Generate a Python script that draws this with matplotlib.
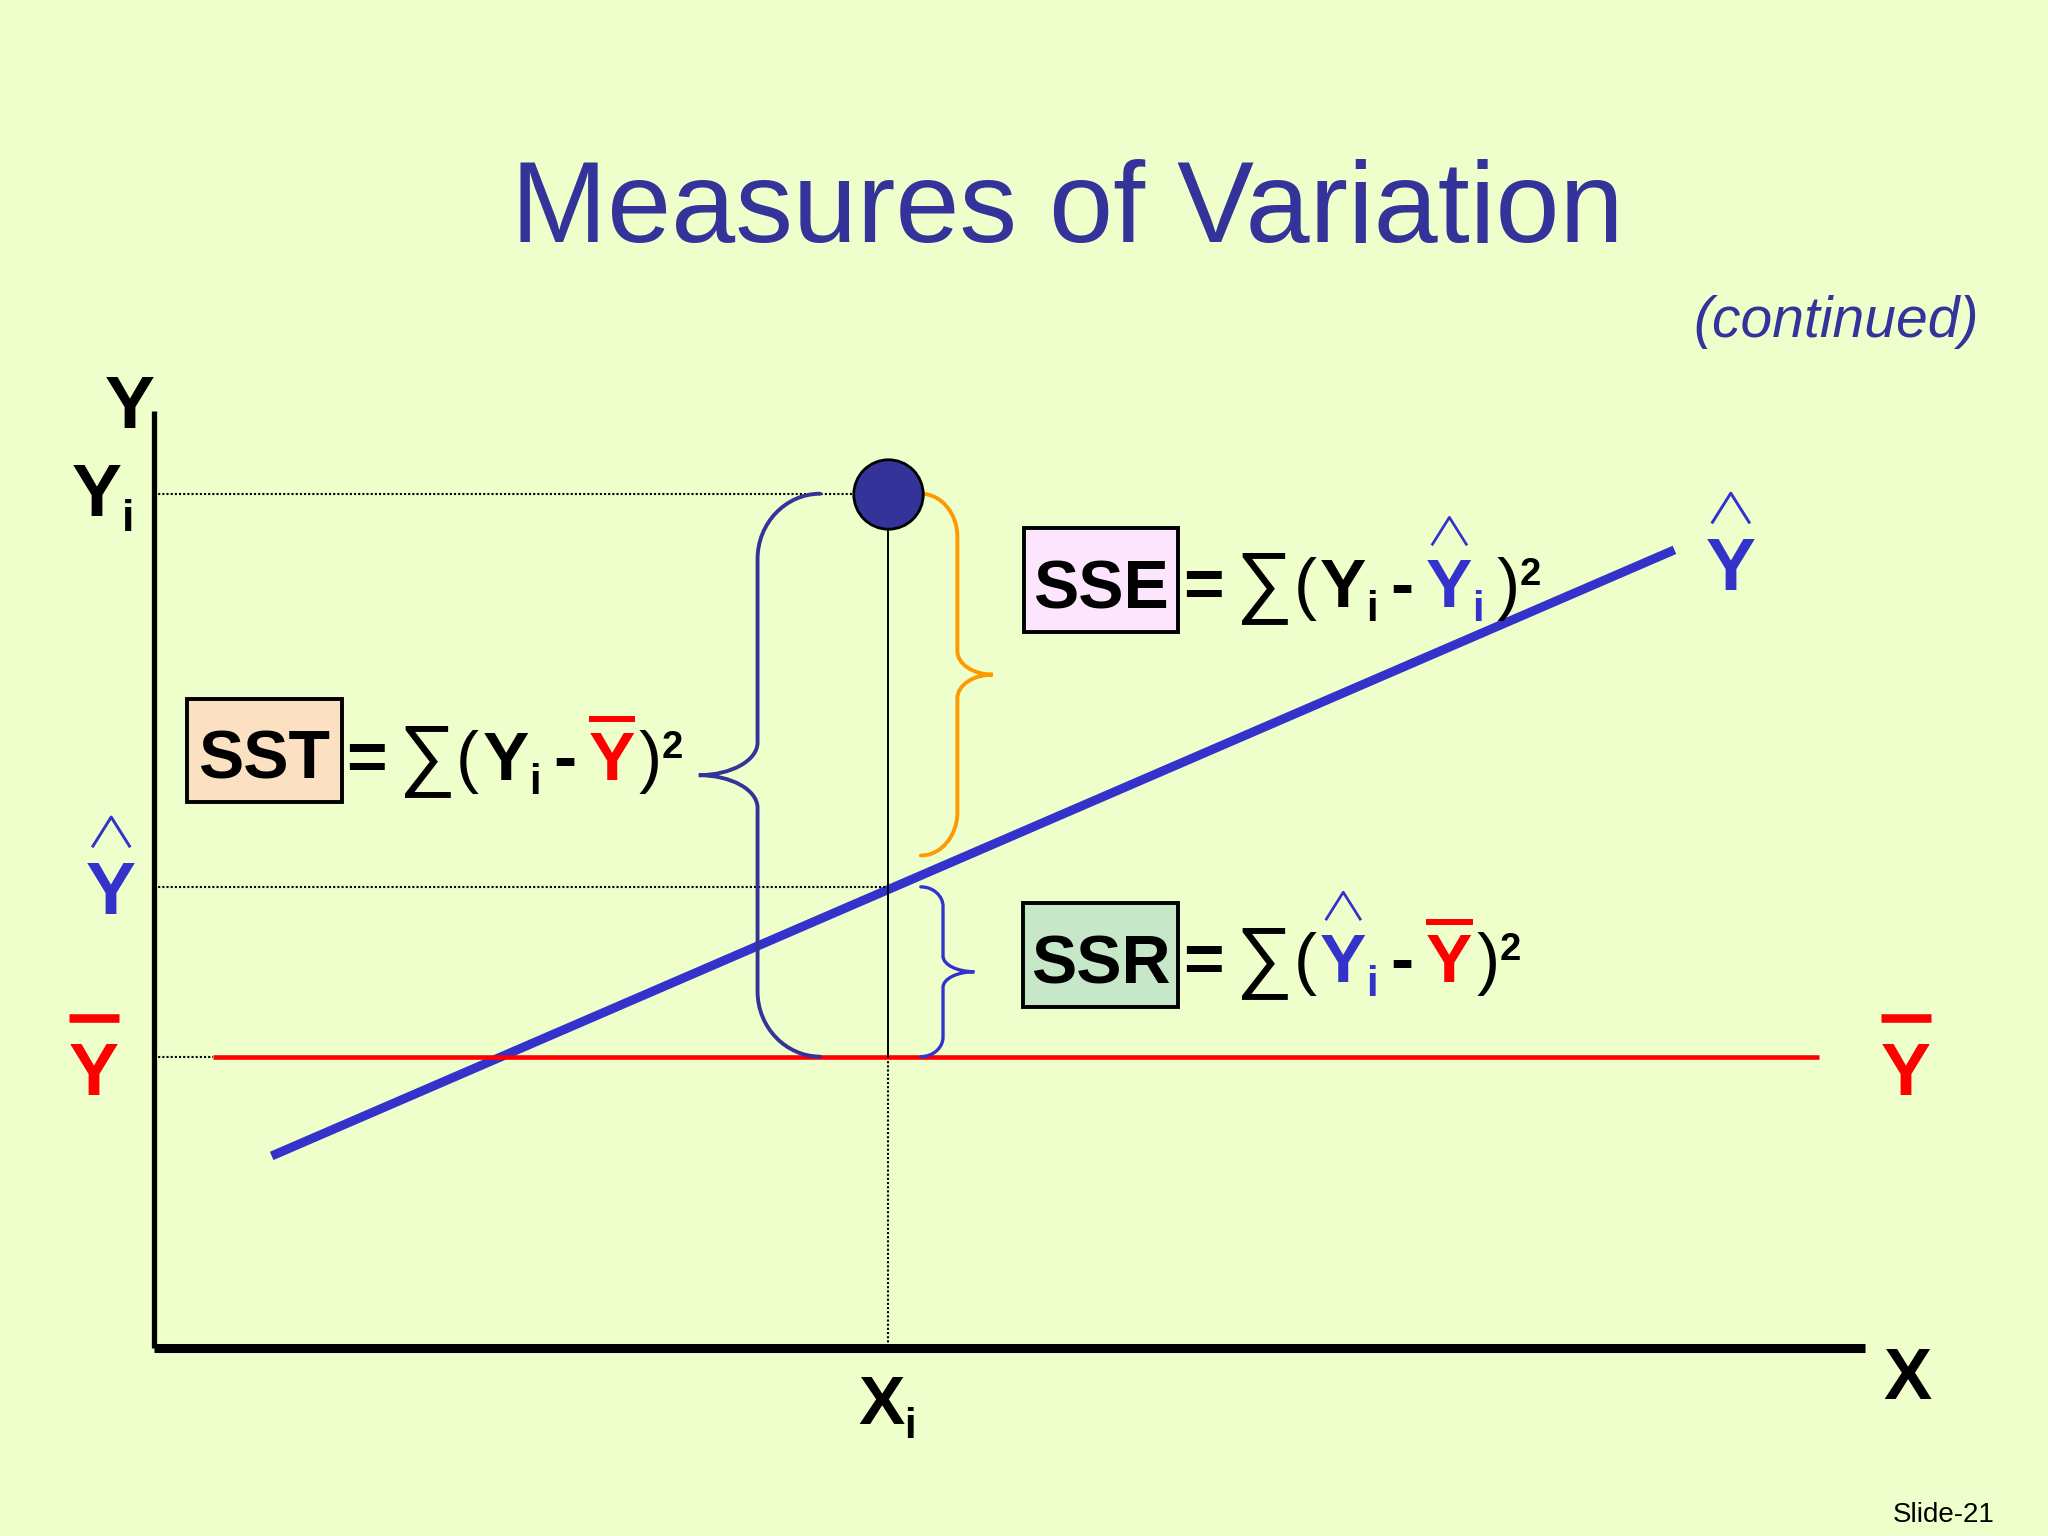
import matplotlib
matplotlib.use("Agg")
import matplotlib.pyplot as plt
from matplotlib.path import Path
from matplotlib.patches import PathPatch, Rectangle
from matplotlib.transforms import IdentityTransform

BG = "#EEFFCC"
NAVY = "#333399"
BLUE = "#3333CC"
RED = "#FF0000"
ORANGE = "#FF9900"

SANS = ["Liberation Sans", "DejaVu Sans"]

# chart values, in axis units (origin where the two axes meet)
x_axis_end = 13.10
y_axis_end = 7.17
x_i, y_i = 5.62, 6.54
y_hat_i = 3.53
y_bar = 2.23
line_x = [0.90, 11.64]
line_y = [1.47, 6.11]
mean_x = [0.45, 12.75]

# boxes: x0, y0, width, height
box_names = ["SST", "SSE", "SSR"]
box_fill = ["#FCE0C2", "#FDE6FD", "#C6E8C8"]
box_rect = [(0.25, 4.18, 1.19, 0.79), (6.66, 5.48, 1.18, 0.80), (6.65, 2.61, 1.19, 0.80)]

fig = plt.figure(figsize=(20.48, 15.36), dpi=100, facecolor=BG)
ax = fig.add_axes([0, 0, 1, 1])
ax.set_facecolor(BG)
ax.set_xlim(-1.18, 14.50)
ax.set_ylim(-1.44, 10.32)
ax.set_autoscale_on(False)
ax.axis("off")

renderer = fig.canvas.get_renderer()
PX = fig.dpi / 72.0
ID = IdentityTransform()


def write(x, y, parts, size, bar_gap=0.22, bar_w=0.12):
    # parts: (text, kind, color, mark); kind "gap" uses text as em width
    px, py = ax.transData.transform((x, y))
    for s, kind, color, mark in parts:
        if kind == "gap":
            px += s * size * PX
            continue
        fs, dy, wt = size, 0.0, "bold"
        if kind == "reg":
            wt = "normal"
        elif kind == "sum":
            fs, wt = size * 1.15, "normal"
        elif kind == "sub":
            fs, dy = size * 0.6, -0.2 * size * PX
        elif kind == "sup":
            fs, dy = size * 0.55, 0.32 * size * PX
        t = ax.text(px, py + dy, s, transform=ID, fontsize=fs, color=color,
                    fontweight=wt, family=SANS, ha="left", va="baseline", zorder=9)
        bb = t.get_window_extent(renderer)
        cap = 0.716 * fs * PX
        top = py + dy + cap
        if mark == "bar":
            yb = top + bar_gap * cap
            ax.plot([bb.x0, bb.x1], [yb, yb], transform=ID, color=color,
                    lw=bar_w * cap / PX, solid_capstyle="butt", zorder=9)
        elif mark == "hat":
            cx = (bb.x0 + bb.x1) / 2
            y0 = top + 0.27 * cap
            hw = 0.34 * cap
            ax.plot([cx - hw, cx, cx + hw], [y0, y0 + 0.54 * cap, y0], transform=ID,
                    color=color, lw=0.055 * cap / PX, zorder=9)
        px = bb.x1


def brace(x_end, x_stem, x_tip, y0, y1, r_end, r_mid, color, lw):
    k = 0.55
    ym = (y0 + y1) / 2
    verts = [
        (x_end, y1),
        (x_end - k * (x_end - x_stem), y1), (x_stem, y1 - r_end + k * r_end), (x_stem, y1 - r_end),
        (x_stem, ym + r_mid),
        (x_stem, ym + r_mid - k * r_mid), (x_tip - k * (x_tip - x_stem), ym), (x_tip, ym),
        (x_tip + k * (x_stem - x_tip), ym), (x_stem, ym - r_mid + k * r_mid), (x_stem, ym - r_mid),
        (x_stem, y0 + r_end),
        (x_stem, y0 + r_end - k * r_end), (x_end - k * (x_end - x_stem), y0), (x_end, y0),
    ]
    codes = [Path.MOVETO] + [Path.CURVE4] * 3 + [Path.LINETO] + [Path.CURVE4] * 6 \
        + [Path.LINETO] + [Path.CURVE4] * 3
    ax.add_patch(PathPatch(Path(verts, codes), fill=False, edgecolor=color, lw=lw,
                           capstyle="round", zorder=6))


# axes
ax.plot([0, 0], [0, y_axis_end], color="black", lw=3.8, solid_capstyle="butt", zorder=3)
ax.plot([0, x_axis_end], [0, 0], color="black", lw=6.5, solid_capstyle="butt", zorder=3)

# regression line and mean line
ax.plot(line_x, line_y, color=BLUE, lw=6.5, solid_capstyle="butt", zorder=2)
ax.plot(mean_x, [y_bar, y_bar], color=RED, lw=3.3, solid_capstyle="butt", zorder=4)

# guide lines
dot = (0, (1, 1))
ax.plot([0, x_i], [y_i, y_i], color="black", lw=1.5, ls=dot, zorder=3)
ax.plot([0, x_i], [y_hat_i, y_hat_i], color="black", lw=1.5, ls=dot, zorder=3)
ax.plot([0, mean_x[0]], [y_bar, y_bar], color="black", lw=1.5, ls=dot, zorder=3)
ax.plot([x_i, x_i], [y_i, y_bar], color="black", lw=1.4, zorder=5)
ax.plot([x_i, x_i], [y_bar, 0], color="black", lw=1.5, ls=dot, zorder=3)

# braces
brace(5.10, 4.62, 4.17, y_bar, y_i, 0.50, 0.25, NAVY, 2.8)
brace(5.87, 6.15, 6.42, y_hat_i + 0.24, y_i, 0.33, 0.18, ORANGE, 2.8)
brace(5.87, 6.04, 6.28, y_bar, y_hat_i, 0.15, 0.12, BLUE, 2.4)

# observed point
ax.plot(x_i, y_i, "o", ms=50, mfc=NAVY, mec="black", mew=2, zorder=7)

# boxes with labels
for name, fill, (bx, by, bw, bh) in zip(box_names, box_fill, box_rect):
    ax.add_patch(Rectangle((bx, by), bw, bh, facecolor=fill, edgecolor="black", lw=2.8, zorder=8))
    ax.text(bx + bw / 2, by + 0.18, name, ha="center", va="baseline", fontsize=49,
            fontweight="bold", family=SANS, color="black", zorder=9)

# titles
ax.text(6.99, 8.47, "Measures of Variation", ha="center", va="baseline", fontsize=83,
        color=NAVY, family=SANS)
ax.text(13.97, 7.74, "(continued)", ha="right", va="baseline", fontsize=41,
        style="italic", color=NAVY, family=SANS)
ax.text(14.09, -1.33, "Slide-21", ha="right", va="baseline", fontsize=20,
        color="black", family=SANS)

# axis labels
LB = dict(bar_gap=0.42, bar_w=0.16)
write(-0.38, 7.04, [("Y", "b", "black", None)], 54)
write(-0.63, 6.37, [("Y", "b", "black", None), ("i", "sub", "black", None)], 54)
write(-0.52, 3.32, [("Y", "b", BLUE, "hat")], 54)
write(-0.65, 1.94, [("Y", "b", RED, "bar")], 54, **LB)
write(11.88, 5.80, [("Y", "b", BLUE, "hat")], 54)
write(13.22, 1.94, [("Y", "b", RED, "bar")], 54, **LB)
write(13.24, -0.39, [("X", "b", "black", None)], 52)
write(5.39, -0.58, [("X", "b", "black", None), ("i", "sub", "black", None)], 50)

# formulas
G = (0.18, "gap", None, None)
g = (0.05, "gap", None, None)
write(1.47, 4.35, [("=", "b", "black", None), G, ("\u2211", "sum", "black", None),
                   ("(", "reg", "black", None), g, ("Y", "b", "black", None),
                   ("i", "sub", "black", None), G, ("-", "b", "black", None), G,
                   ("Y", "b", RED, "bar"), g, (")", "reg", "black", None),
                   ("2", "sup", "black", None)], 50)
write(7.88, 5.67, [("=", "b", "black", None), G, ("\u2211", "sum", "black", None),
                   ("(", "reg", "black", None), g, ("Y", "b", "black", None),
                   ("i", "sub", "black", None), G, ("-", "b", "black", None), G,
                   ("Y", "b", BLUE, "hat"), ("i", "sub", BLUE, None), G,
                   (")", "reg", "black", None), ("2", "sup", "black", None)], 50)
write(7.88, 2.80, [("=", "b", "black", None), G, ("\u2211", "sum", "black", None),
                   ("(", "reg", "black", None), g, ("Y", "b", BLUE, "hat"),
                   ("i", "sub", BLUE, None), G, ("-", "b", "black", None), G,
                   ("Y", "b", RED, "bar"), g, (")", "reg", "black", None),
                   ("2", "sup", "black", None)], 50)

fig.savefig("out.png", dpi=100, facecolor=BG)
